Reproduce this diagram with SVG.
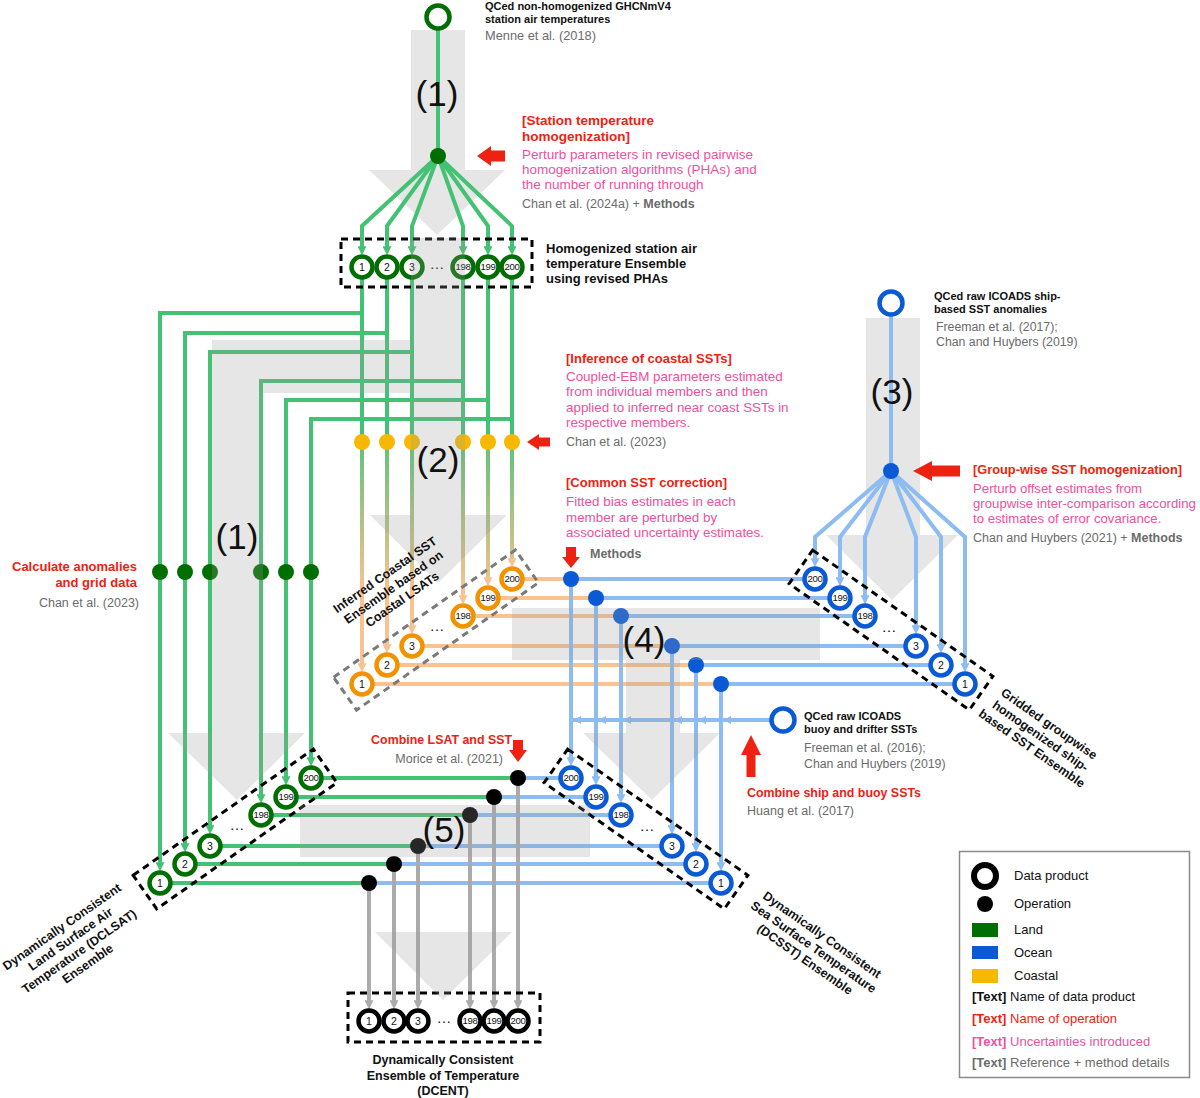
<svg xmlns="http://www.w3.org/2000/svg" width="1200" height="1098" viewBox="0 0 1200 1098">
<style>
.t{font-family:"Liberation Sans",Arial,sans-serif}
.b{font-weight:bold}
.red{fill:#ee2211}
.pk{fill:#f0509e}
.gy{fill:#6b6b6b}
.bk{fill:#111}
.big{font-family:"Liberation Sans",Arial,sans-serif;font-size:35px;fill:#111;text-anchor:middle}
.num{font-family:"Liberation Sans",Arial,sans-serif;font-size:10.5px;text-anchor:middle;fill:#111}
.n3{font-size:9.6px;letter-spacing:-0.4px}
.dots{font-family:"Liberation Sans",Arial,sans-serif;font-size:15px;text-anchor:middle;fill:#111}
.lg{stroke:#44c274;stroke-width:4;fill:none}
.lb{stroke:#8cbcf2;stroke-width:4;fill:none}
.lo{stroke:#f9c28e;stroke-width:4;fill:none}
.lc{stroke:url(#coast);stroke-width:4;fill:none}
.lk{stroke:#ababab;stroke-width:4;fill:none}
.rG{fill:#fff;stroke:#006e00;stroke-width:4.5}
.rB{fill:#fff;stroke:#0a5ad6;stroke-width:4.5}
.rO{fill:#fff;stroke:#f39200;stroke-width:4.5}
.rK{fill:#fff;stroke:#000;stroke-width:4.5}
.dG{fill:#006e00}
.dB{fill:#0a5ad6}
.dY{fill:#f6b800}
.dK{fill:#000}
.box{fill:none;stroke:#000;stroke-width:3;stroke-dasharray:7 5}
.boxg{fill:none;stroke:#7a7a7a;stroke-width:3;stroke-dasharray:7 5}
.gray{fill:#9d9d9d;fill-opacity:.25}
.ra{fill:#ee2211}
</style>
<defs>
<linearGradient id="coast" gradientUnits="userSpaceOnUse" x1="0" y1="442" x2="0" y2="590">
<stop offset="0" stop-color="#5ec27a"/><stop offset="1" stop-color="#f9c28e"/>
</linearGradient>
<marker id="ag" viewBox="0 0 10 10" refX="3" refY="5" markerWidth="9" markerHeight="9" markerUnits="userSpaceOnUse" orient="auto"><path d="M0,0L10,5L0,10z" fill="#44c274"/></marker>
<marker id="ab" viewBox="0 0 10 10" refX="3" refY="5" markerWidth="9" markerHeight="9" markerUnits="userSpaceOnUse" orient="auto"><path d="M0,0L10,5L0,10z" fill="#8cbcf2"/></marker>
<marker id="ao" viewBox="0 0 10 10" refX="3" refY="5" markerWidth="9" markerHeight="9" markerUnits="userSpaceOnUse" orient="auto"><path d="M0,0L10,5L0,10z" fill="#f9c28e"/></marker>
<marker id="ak" viewBox="0 0 10 10" refX="3" refY="5" markerWidth="9" markerHeight="9" markerUnits="userSpaceOnUse" orient="auto"><path d="M0,0L10,5L0,10z" fill="#ababab"/></marker>
<marker id="am" viewBox="0 0 10 10" refX="10" refY="5" markerWidth="8" markerHeight="8" markerUnits="userSpaceOnUse" orient="auto"><path d="M0,0L10,5L0,10z" fill="#8cbcf2"/></marker>
</defs>
<rect width="1200" height="1098" fill="#fff"/>

<!-- background gray flow arrows (beneath) -->
<g id="flow-under">
<path class="gray" d="M411,30H465V170H505L437,235L369,170H411Z"/>
<path class="gray" d="M866,318H920V535H958L892,600L826,535H866Z"/>
</g>

<g id="connectors">
<!-- land -->
<path class="lg" d="M438,29V150"/>
<path class="lg" marker-end="url(#ag)" d="M438,156L362,226V249"/>
<path class="lg" marker-end="url(#ag)" d="M438,156L387,226V249"/>
<path class="lg" marker-end="url(#ag)" d="M438,156L412,226V249"/>
<path class="lg" marker-end="url(#ag)" d="M438,156L463,226V249"/>
<path class="lg" marker-end="url(#ag)" d="M438,156L488,226V249"/>
<path class="lg" marker-end="url(#ag)" d="M438,156L512,226V249"/>
<path class="lg" d="M362,267V442M387,267V442M412,267V442M463,267V442M488,267V442M512,267V442"/>
<path class="lg" marker-end="url(#ag)" d="M362,313H160V865"/>
<path class="lg" marker-end="url(#ag)" d="M387,333H185V846"/>
<path class="lg" marker-end="url(#ag)" d="M412,352H210V828"/>
<path class="lg" marker-end="url(#ag)" d="M463,381H261V797"/>
<path class="lg" marker-end="url(#ag)" d="M488,400H286V779"/>
<path class="lg" marker-end="url(#ag)" d="M512,419H311V760"/>
<path class="lg" d="M160,883H369M185,864H394M210,846H418M261,815H470M286,797H494M311,778H518"/>
<!-- coastal -->
<path class="lc" marker-end="url(#ao)" d="M362,442V666"/>
<path class="lc" marker-end="url(#ao)" d="M387,442V647"/>
<path class="lc" marker-end="url(#ao)" d="M412,442V628"/>
<path class="lc" marker-end="url(#ao)" d="M463,442V598"/>
<path class="lc" marker-end="url(#ao)" d="M488,442V580"/>
<path class="lc" marker-end="url(#ao)" d="M512,442V561"/>
<path class="lo" d="M512,579H571M488,598H596M463,616H621M412,646H672M387,665H696M362,684H721"/>
<!-- ocean -->
<path class="lb" d="M891,315V471"/>
<path class="lb" marker-end="url(#ab)" d="M891,471L815,537V561"/>
<path class="lb" marker-end="url(#ab)" d="M891,471L840,537V580"/>
<path class="lb" marker-end="url(#ab)" d="M891,471L865,537V598"/>
<path class="lb" marker-end="url(#ab)" d="M891,471L916,537V628"/>
<path class="lb" marker-end="url(#ab)" d="M891,471L941,537V647"/>
<path class="lb" marker-end="url(#ab)" d="M891,471L965,537V666"/>
<path class="lb" d="M571,579H815M596,598H840M621,616H865M672,646H916M696,665H941M721,684H965"/>
<path class="lb" marker-end="url(#ab)" d="M571,579V760"/>
<path class="lb" marker-end="url(#ab)" d="M596,598V779"/>
<path class="lb" marker-end="url(#ab)" d="M621,616V797"/>
<path class="lb" marker-end="url(#ab)" d="M672,646V828"/>
<path class="lb" marker-end="url(#ab)" d="M696,665V846"/>
<path class="lb" marker-end="url(#ab)" d="M721,684V865"/>
<path class="lb" marker-mid="url(#am)" d="M771,720H723H698H674H623H598H573H571"/>
<path class="lb" d="M518,778H571M494,797H596M470,815H621M418,846H672M394,864H696M369,883H721"/>
<!-- combined -->
<path class="lk" marker-end="url(#ak)" d="M369,883V1003"/>
<path class="lk" marker-end="url(#ak)" d="M394,864V1003"/>
<path class="lk" marker-end="url(#ak)" d="M418,846V1003"/>
<path class="lk" marker-end="url(#ak)" d="M470,815V1003"/>
<path class="lk" marker-end="url(#ak)" d="M494,797V1003"/>
<path class="lk" marker-end="url(#ak)" d="M518,778V1003"/>
</g>

<!-- source products -->
<g id="src-ghcn"><circle class="rG" cx="438" cy="17" r="11.5" stroke-width="5"/></g>
<g id="src-ship"><circle class="rB" cx="891" cy="303" r="11.5" stroke-width="5"/></g>
<g id="src-buoy"><circle class="rB" cx="783" cy="720" r="11.5" stroke-width="5"/></g>

<!-- operations -->
<g id="op-pha"><circle class="dG" cx="438" cy="156" r="8"/></g>
<g id="op-groupwise"><circle class="dB" cx="891" cy="471" r="8"/></g>
<g id="op-anomalies">
<circle class="dG" cx="160" cy="572" r="8"/><circle class="dG" cx="185" cy="572" r="8"/><circle class="dG" cx="210" cy="572" r="8"/>
<circle class="dG" cx="261" cy="572" r="8"/><circle class="dG" cx="286" cy="572" r="8"/><circle class="dG" cx="311" cy="572" r="8"/>
</g>
<g id="op-coastal">
<circle class="dY" cx="362" cy="442" r="8"/><circle class="dY" cx="387" cy="442" r="8"/><circle class="dY" cx="412" cy="442" r="8"/>
<circle class="dY" cx="463" cy="442" r="8"/><circle class="dY" cx="488" cy="442" r="8"/><circle class="dY" cx="512" cy="442" r="8"/>
</g>
<g id="op-common-sst">
<circle class="dB" cx="571" cy="579" r="8"/><circle class="dB" cx="596" cy="598" r="8"/><circle class="dB" cx="621" cy="616" r="8"/>
<circle class="dB" cx="672" cy="646" r="8"/><circle class="dB" cx="696" cy="665" r="8"/><circle class="dB" cx="721" cy="684" r="8"/>
</g>
<g id="op-combine">
<circle class="dK" cx="369" cy="883" r="8"/><circle class="dK" cx="394" cy="864" r="8"/><circle class="dK" cx="418" cy="846" r="8"/>
<circle class="dK" cx="470" cy="815" r="8"/><circle class="dK" cx="494" cy="797" r="8"/><circle class="dK" cx="518" cy="778" r="8"/>
</g>

<!-- ensembles -->
<g id="ens-pha">
<rect class="box" x="341" y="239" width="191" height="48"/>
<circle class="rG" cx="362" cy="267" r="10.5"/><text class="num" x="362" y="270.7">1</text>
<circle class="rG" cx="387" cy="267" r="10.5"/><text class="num" x="387" y="270.7">2</text>
<circle class="rG" cx="412" cy="267" r="10.5"/><text class="num" x="412" y="270.7">3</text>
<text class="dots" x="437" y="269">…</text>
<circle class="rG" cx="463" cy="267" r="10.5"/><text class="num n3" x="463" y="270.4">198</text>
<circle class="rG" cx="488" cy="267" r="10.5"/><text class="num n3" x="488" y="270.4">199</text>
<circle class="rG" cx="512" cy="267" r="10.5"/><text class="num n3" x="512" y="270.4">200</text>
</g>
<g id="ens-coastal">
<rect class="boxg" x="-111" y="-20" width="222" height="40" transform="translate(436,630) rotate(-35)"/>
<circle class="rO" cx="362" cy="684" r="10.5"/><text class="num" x="362" y="687.7">1</text>
<circle class="rO" cx="387" cy="665" r="10.5"/><text class="num" x="387" y="668.7">2</text>
<circle class="rO" cx="412" cy="646" r="10.5"/><text class="num" x="412" y="649.7">3</text>
<text class="dots" x="437" y="631">…</text>
<circle class="rO" cx="463" cy="616" r="10.5"/><text class="num n3" x="463" y="619.4">198</text>
<circle class="rO" cx="488" cy="598" r="10.5"/><text class="num n3" x="488" y="601.4">199</text>
<circle class="rO" cx="512" cy="579" r="10.5"/><text class="num n3" x="512" y="582.4">200</text>
</g>
<g id="ens-ship">
<rect class="box" x="-110" y="-20.5" width="220" height="41" transform="translate(891,630) rotate(35)"/>
<circle class="rB" cx="815" cy="579" r="10.5"/><text class="num n3" x="815" y="582.4">200</text>
<circle class="rB" cx="840" cy="598" r="10.5"/><text class="num n3" x="840" y="601.4">199</text>
<circle class="rB" cx="865" cy="616" r="10.5"/><text class="num n3" x="865" y="619.4">198</text>
<text class="dots" x="889" y="632">…</text>
<circle class="rB" cx="916" cy="646" r="10.5"/><text class="num" x="916" y="649.7">3</text>
<circle class="rB" cx="941" cy="665" r="10.5"/><text class="num" x="941" y="668.7">2</text>
<circle class="rB" cx="965" cy="684" r="10.5"/><text class="num" x="965" y="687.7">1</text>
</g>
<g id="ens-dclsat">
<rect class="box" x="-110" y="-20.5" width="220" height="41" transform="translate(235,829) rotate(-35)"/>
<circle class="rG" cx="160" cy="883" r="10.5"/><text class="num" x="160" y="886.7">1</text>
<circle class="rG" cx="185" cy="864" r="10.5"/><text class="num" x="185" y="867.7">2</text>
<circle class="rG" cx="210" cy="846" r="10.5"/><text class="num" x="210" y="849.7">3</text>
<text class="dots" x="237" y="830">…</text>
<circle class="rG" cx="261" cy="815" r="10.5"/><text class="num n3" x="261" y="818.4">198</text>
<circle class="rG" cx="286" cy="797" r="10.5"/><text class="num n3" x="286" y="800.4">199</text>
<circle class="rG" cx="311" cy="778" r="10.5"/><text class="num n3" x="311" y="781.4">200</text>
</g>
<g id="ens-dcsst">
<rect class="box" x="-110" y="-20.5" width="220" height="41" transform="translate(646,829) rotate(35)"/>
<circle class="rB" cx="571" cy="778" r="10.5"/><text class="num n3" x="571" y="781.4">200</text>
<circle class="rB" cx="596" cy="797" r="10.5"/><text class="num n3" x="596" y="800.4">199</text>
<circle class="rB" cx="621" cy="815" r="10.5"/><text class="num n3" x="621" y="818.4">198</text>
<text class="dots" x="647" y="831">…</text>
<circle class="rB" cx="672" cy="846" r="10.5"/><text class="num" x="672" y="849.7">3</text>
<circle class="rB" cx="696" cy="864" r="10.5"/><text class="num" x="696" y="867.7">2</text>
<circle class="rB" cx="721" cy="883" r="10.5"/><text class="num" x="721" y="886.7">1</text>
</g>
<g id="ens-dcent">
<rect class="box" x="348" y="993" width="192" height="49"/>
<circle class="rK" cx="369" cy="1021" r="10.5"/><text class="num" x="369" y="1024.7">1</text>
<circle class="rK" cx="394" cy="1021" r="10.5"/><text class="num" x="394" y="1024.7">2</text>
<circle class="rK" cx="418" cy="1021" r="10.5"/><text class="num" x="418" y="1024.7">3</text>
<text class="dots" x="444" y="1023">…</text>
<circle class="rK" cx="470" cy="1021" r="10.5"/><text class="num n3" x="470" y="1024.4">198</text>
<circle class="rK" cx="494" cy="1021" r="10.5"/><text class="num n3" x="494" y="1024.4">199</text>
<circle class="rK" cx="518" cy="1021" r="10.5"/><text class="num n3" x="518" y="1024.4">200</text>
</g>

<!-- gray flow arrows (overlay) -->
<g id="flow-over">
<path class="gray" d="M212,340H411V393H263V733H305L237,800L168,733H212Z"/>
<path class="gray" d="M411,238H465V515H507L438,583L370,515H411Z"/>
<path class="gray" d="M512,608H820V660H680V733H720L652,800L583,733H626V660H512Z"/>
<path class="gray" d="M300,805H590V857H300ZM375,932H512L443,1000Z"/>
</g>

<!-- step numbers -->
<g id="steps">
<text class="big" x="437" y="106">(1)</text>
<text class="big" x="438" y="472">(2)</text>
<text class="big" x="237" y="549">(1)</text>
<text class="big" x="892" y="404">(3)</text>
<text class="big" x="644" y="652">(4)</text>
<text class="big" x="444" y="842">(5)</text>
</g>

<!-- red operation arrows -->
<g id="op-arrows">
<polygon class="ra" points="477,156 491,146 491,150.5 505,150.5 505,161.5 491,161.5 491,166"/>
<polygon class="ra" points="527,442 539,434 539,437.5 550,437.5 550,446.5 539,446.5 539,450"/>
<polygon class="ra" points="913,471 932,461 932,465.5 960,465.5 960,476.5 932,476.5 932,481"/>
<polygon class="ra" points="566,547 576,547 576,557 580,557 571,568 562,557 566,557"/>
<polygon class="ra" points="513,740 523,740 523,750 527,750 518,762 509,750 513,750"/>
<polygon class="ra" points="751,735 761,755 755.5,755 755.5,777 746.5,777 746.5,755 741,755"/>
</g>

<!-- texts -->
<g id="txt-ghcn" class="t">
<text class="b bk" x="485" y="10" font-size="11">QCed non-homogenized GHCNmV4</text>
<text class="b bk" x="485" y="23" font-size="11">station air temperatures</text>
<text class="gy" x="485" y="40" font-size="12.8">Menne et al. (2018)</text>
</g>
<g id="txt-pha" class="t">
<text class="b red" x="522" y="125" font-size="13.5">[Station temperature</text>
<text class="b red" x="522" y="141" font-size="13.5">homogenization]</text>
<text class="pk" x="522" y="159" font-size="13.5">Perturb parameters in revised pairwise</text>
<text class="pk" x="522" y="174" font-size="13.5">homogenization algorithms (PHAs) and</text>
<text class="pk" x="522" y="189" font-size="13.5">the number of running through</text>
<text class="gy" x="522" y="208" font-size="12.5">Chan et al. (2024a) + <tspan class="b">Methods</tspan></text>
</g>
<g id="txt-ens-pha" class="t b bk" font-size="13">
<text x="546" y="253">Homogenized station air</text>
<text x="546" y="268">temperature Ensemble</text>
<text x="546" y="283">using revised PHAs</text>
</g>
<g id="txt-coastal" class="t">
<text class="b red" x="566" y="363" font-size="13">[Inference of coastal SSTs]</text>
<text class="pk" x="566" y="381" font-size="13.4">Coupled-EBM parameters estimated</text>
<text class="pk" x="566" y="396" font-size="13.4">from individual members and then</text>
<text class="pk" x="566" y="412" font-size="13.4">applied to inferred near coast SSTs in</text>
<text class="pk" x="566" y="427" font-size="13.4">respective members.</text>
<text class="gy" x="566" y="446" font-size="12.5">Chan et al. (2023)</text>
</g>
<g id="txt-common" class="t">
<text class="b red" x="566" y="487" font-size="13">[Common SST correction]</text>
<text class="pk" x="566" y="506" font-size="13.4">Fitted bias estimates in each</text>
<text class="pk" x="566" y="522" font-size="13.4">member are perturbed by</text>
<text class="pk" x="566" y="537" font-size="13.4">associated uncertainty estimates.</text>
<text class="gy b" x="590" y="558" font-size="12.5">Methods</text>
</g>
<g id="txt-ship" class="t">
<text class="b bk" x="934" y="300" font-size="11">QCed raw ICOADS ship-</text>
<text class="b bk" x="934" y="313" font-size="11">based SST anomalies</text>
<text class="gy" x="936" y="331" font-size="12.3">Freeman et al. (2017);</text>
<text class="gy" x="936" y="346" font-size="12.3">Chan and Huybers (2019)</text>
</g>
<g id="txt-groupwise" class="t">
<text class="b red" x="973" y="474" font-size="12.8">[Group-wise SST homogenization]</text>
<text class="pk" x="973" y="493" font-size="13.2">Perturb offset estimates from</text>
<text class="pk" x="973" y="508" font-size="13.2">groupwise inter-comparison according</text>
<text class="pk" x="973" y="523" font-size="13.2">to estimates of error covariance.</text>
<text class="gy" x="973" y="542" font-size="12.5">Chan and Huybers (2021) + <tspan class="b">Methods</tspan></text>
</g>
<g id="txt-anomalies" class="t" text-anchor="end">
<text class="b red" x="137" y="571" font-size="13">Calculate anomalies</text>
<text class="b red" x="137" y="587" font-size="13">and grid data</text>
<text class="gy" x="139" y="607" font-size="12.5">Chan et al. (2023)</text>
</g>
<g id="txt-buoy" class="t">
<text class="b bk" x="804" y="720" font-size="11">QCed raw ICOADS</text>
<text class="b bk" x="804" y="733" font-size="11">buoy and drifter SSTs</text>
<text class="gy" x="804" y="752" font-size="12.3">Freeman et al. (2016);</text>
<text class="gy" x="804" y="768" font-size="12.3">Chan and Huybers (2019)</text>
</g>
<g id="txt-combine-ocean" class="t">
<text class="b red" x="747" y="797" font-size="12.4">Combine ship and buoy SSTs</text>
<text class="gy" x="747" y="815" font-size="12.5">Huang et al. (2017)</text>
</g>
<g id="txt-combine" class="t" text-anchor="end">
<text class="b red" x="512" y="744" font-size="12.4">Combine LSAT and SST</text>
<text class="gy" x="503" y="763" font-size="12.5">Morice et al. (2021)</text>
</g>
<g id="txt-coastal-ens" class="t b bk" font-size="12.5" text-anchor="middle">
<text transform="translate(385,575) rotate(-35)" y="4">Inferred Coastal SST</text>
<text transform="translate(393.6,587.3) rotate(-35)" y="4">Ensemble based on</text>
<text transform="translate(402.2,599.6) rotate(-35)" y="4">Coastal LSATs</text>
</g>
<g id="txt-dclsat" class="t b bk" font-size="12.5" text-anchor="middle">
<text transform="translate(62,927) rotate(-35)" y="4">Dynamically Consistent</text>
<text transform="translate(70.6,939.3) rotate(-35)" y="4">Land Surface Air</text>
<text transform="translate(79.2,951.6) rotate(-35)" y="4">Temperature (DCLSAT)</text>
<text transform="translate(87.8,963.9) rotate(-35)" y="4">Ensemble</text>
</g>
<g id="txt-ship-ens" class="t b bk" font-size="12.5" text-anchor="middle">
<text transform="translate(1049,724) rotate(35)" y="4">Gridded groupwise</text>
<text transform="translate(1040.4,736.3) rotate(35)" y="4">homogenized ship-</text>
<text transform="translate(1031.8,748.6) rotate(35)" y="4">based SST Ensemble</text>
</g>
<g id="txt-dcsst" class="t b bk" font-size="12.5" text-anchor="middle">
<text transform="translate(822,935) rotate(35)" y="4">Dynamically Consistent</text>
<text transform="translate(813.4,947.3) rotate(35)" y="4">Sea Surface Temperature</text>
<text transform="translate(804.8,959.6) rotate(35)" y="4">(DCSST) Ensemble</text>
</g>
<g id="txt-dcent" class="t b bk" font-size="12.5" text-anchor="middle">
<text x="443" y="1064">Dynamically Consistent</text>
<text x="443" y="1080">Ensemble of Temperature</text>
<text x="443" y="1095">(DCENT)</text>
</g>

<!-- legend -->
<g id="legend" class="t" font-size="13">
<rect x="959.5" y="851.5" width="230" height="226" fill="#fff" stroke="#8a8a8a" stroke-width="1.5"/>
<circle cx="985" cy="876" r="11" fill="none" stroke="#000" stroke-width="6"/>
<text class="bk" x="1014" y="880">Data product</text>
<circle cx="985" cy="904" r="8" fill="#000"/>
<text class="bk" x="1014" y="908">Operation</text>
<rect x="972" y="923" width="26" height="14" fill="#006e00"/>
<text class="bk" x="1014" y="934">Land</text>
<rect x="972" y="946" width="26" height="13" fill="#0a5ad6"/>
<text class="bk" x="1014" y="957">Ocean</text>
<rect x="972" y="969" width="26" height="14" fill="#f6b800"/>
<text class="bk" x="1014" y="980">Coastal</text>
<text class="bk" x="972" y="1001"><tspan class="b">[Text]</tspan> Name of data product</text>
<text class="red" x="972" y="1023"><tspan class="b">[Text]</tspan> Name of operation</text>
<text class="pk" x="972" y="1046"><tspan class="b">[Text]</tspan> Uncertainties introduced</text>
<text class="gy" x="972" y="1067"><tspan class="b">[Text]</tspan> Reference + method details</text>
</g>
</svg>
